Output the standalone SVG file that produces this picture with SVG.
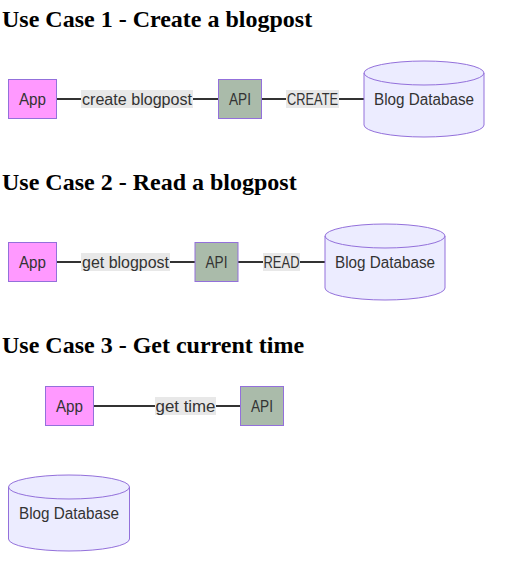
<svg xmlns="http://www.w3.org/2000/svg" width="517" height="587" viewBox="0 0 517 587">
<style>
.h{font-family:"Liberation Serif","Times New Roman",serif;font-weight:bold;font-size:24px;fill:#000}
.t{font-family:"Liberation Sans",Arial,sans-serif;font-size:16px;fill:#333;text-anchor:middle;dominant-baseline:central}
.app{fill:#ff99ff;stroke:#9370DB;stroke-width:1}
.api{fill:#aabbaa;stroke:#9370DB;stroke-width:1}
.db{fill:#ECECFF;stroke:#9370DB;stroke-width:1}
.e{stroke:#333;stroke-width:2;fill:none}
.lb{fill:#e8e8e8}
</style>
<rect width="517" height="587" fill="#fff"/>
<text class="h" x="2" y="27">Use Case 1 - Create a blogpost</text>
<text class="h" x="2" y="190">Use Case 2 - Read a blogpost</text>
<text class="h" x="2" y="353">Use Case 3 - Get current time</text>
<g id="connectors">
<line class="e" x1="57" y1="99" x2="218" y2="99"/>
<line class="e" x1="261" y1="99" x2="364" y2="99"/>
<line class="e" x1="57" y1="262" x2="195" y2="262"/>
<line class="e" x1="238" y1="262" x2="325" y2="262"/>
<line class="e" x1="94" y1="406" x2="240" y2="406"/>
<rect class="lb" x="81" y="90" width="112" height="18"/>
<text class="t" x="137" y="99" textLength="110" lengthAdjust="spacingAndGlyphs">create blogpost</text>
<rect class="lb" x="286" y="90" width="53" height="18"/>
<text class="t" x="312.5" y="99" textLength="51" lengthAdjust="spacingAndGlyphs">CREATE</text>
<rect class="lb" x="81" y="253" width="89" height="18"/>
<text class="t" x="125.5" y="262" textLength="87" lengthAdjust="spacingAndGlyphs">get blogpost</text>
<rect class="lb" x="263" y="253" width="37" height="18"/>
<text class="t" x="281.5" y="262" textLength="36" lengthAdjust="spacingAndGlyphs">READ</text>
<rect class="lb" x="155" y="397" width="61" height="18"/>
<text class="t" x="185.5" y="406" textLength="60" lengthAdjust="spacingAndGlyphs">get time</text>
</g>
<g id="uc1-app"><rect class="app" x="8.5" y="79.5" width="48" height="39"/><text class="t" x="32.5" y="99" textLength="27" lengthAdjust="spacingAndGlyphs">App</text></g>
<g id="uc1-api"><rect class="api" x="218.5" y="79.5" width="43" height="39"/><text class="t" x="240" y="99" textLength="22" lengthAdjust="spacingAndGlyphs">API</text></g>
<g id="uc1-db"><path class="db" d="M364,73 a60,12 0 0 0 120,0 a60,12 0 0 0 -120,0 l0,52 a60,12 0 0 0 120,0 l0,-52"/><text class="t" x="424" y="99" textLength="100" lengthAdjust="spacingAndGlyphs">Blog Database</text></g>
<g id="uc2-app"><rect class="app" x="8.5" y="242.5" width="48" height="39"/><text class="t" x="32.5" y="262" textLength="27" lengthAdjust="spacingAndGlyphs">App</text></g>
<g id="uc2-api"><rect class="api" x="195" y="242.5" width="43" height="39"/><text class="t" x="216.5" y="262" textLength="22" lengthAdjust="spacingAndGlyphs">API</text></g>
<g id="uc2-db"><path class="db" d="M325,236 a60,12 0 0 0 120,0 a60,12 0 0 0 -120,0 l0,52 a60,12 0 0 0 120,0 l0,-52"/><text class="t" x="385" y="262" textLength="100" lengthAdjust="spacingAndGlyphs">Blog Database</text></g>
<g id="uc3-app"><rect class="app" x="45.5" y="386.5" width="48" height="39"/><text class="t" x="69.5" y="406" textLength="27" lengthAdjust="spacingAndGlyphs">App</text></g>
<g id="uc3-api"><rect class="api" x="240.5" y="386.5" width="43" height="39"/><text class="t" x="262" y="406" textLength="22" lengthAdjust="spacingAndGlyphs">API</text></g>
<g id="uc3-db"><path class="db" d="M8.5,487 a60.5,12 0 0 0 121,0 a60.5,12 0 0 0 -121,0 l0,52 a60.5,12 0 0 0 121,0 l0,-52"/><text class="t" x="69" y="513" textLength="100" lengthAdjust="spacingAndGlyphs">Blog Database</text></g>
</svg>
